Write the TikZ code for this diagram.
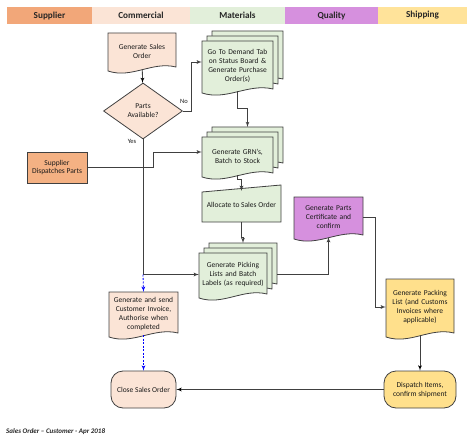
\documentclass[tikz,border=0pt]{standalone}
\usepackage{fontspec}
\setmainfont{Carlito}
\usetikzlibrary{arrows,shapes.geometric}
\definecolor{supc}{HTML}{F2A779}
\definecolor{supnode}{HTML}{F4B183}
\definecolor{comc}{HTML}{FBE4D6}
\definecolor{matc}{HTML}{E2EFDA}
\definecolor{quac}{HTML}{D690DE}
\definecolor{shic}{HTML}{FFE39A}
\definecolor{shinode}{HTML}{FFE08C}
\definecolor{linec}{HTML}{404040}
\tikzset{
  txt/.style={align=center,font=\fontsize{7.5}{9}\selectfont,text=black!90,inner sep=0pt},
  hdr/.style={shape=rectangle,minimum height=17pt,inner sep=0pt,font=\fontsize{9.2}{10}\selectfont\bfseries,text=black!85},
  outline/.style={draw=linec,line width=0.8pt},
  conn/.style={draw=linec,line width=0.8pt},
  invconn/.style={draw=blue,line width=0.8pt,dash pattern=on 2pt off 1.5pt},
  lbl/.style={font=\fontsize{6.5}{7}\selectfont,text=black!90,inner sep=0pt}
}
% document outline: x0, y0, x1, y1 (left bottom corner), fill
\newcommand*\docpath[5]{%
  \filldraw[outline,fill=#5] ({#1},{#2}) -- ({#3},{#2}) -- ({#3},{#4-4})
    .. controls ({#1+0.65*(#3-#1)},{#4-10}) and ({#1+0.35*(#3-#1)},{#4+8}) .. ({#1},{#4}) -- cycle;}
% document with its text node: name, x0, y0, x1, y1, fill, text
\newcommand*\docnode[7]{%
  \docpath{#2}{#3}{#4}{#5}{#6}
  \node[txt,minimum width={#4-#2},minimum height={#5-#3-2},text width={#4-#2-6}] (#1) at ({(#2+#4)/2},{(#3+#5-2)/2}) {#7};}
% stack of three documents
\newcommand*\multidocnode[7]{%
  \docpath{(#2+10)}{(#3-10)}{(#4+10)}{(#5-10)}{#6}
  \docpath{(#2+5)}{(#3-5)}{(#4+5)}{(#5-5)}{#6}
  \docnode{#1}{#2}{#3}{#4}{#5}{#6}{#7}
  \coordinate (#1-back) at ({(#2+#4)/2+10},{#3-10});}

\begin{document}
\begin{tikzpicture}[x=1pt,y=-1pt,>=latex']
	\useasboundingbox (0,0) rectangle (474,441);
	% swimlane headers
	\node (hsupplier) [hdr,fill=supc,minimum width=85pt] at (49.5,15.5) {Supplier};
	\node (hcommercial) [hdr,fill=comc,minimum width=98pt] at (141,15.5) {Commercial};
	\node (hmaterials) [hdr,fill=matc,minimum width=95pt] at (237.5,15.5) {Materials};
	\node (hquality) [hdr,fill=quac,minimum width=93pt] at (331.5,15.5) {Quality};
	\node (hshipping) [hdr,fill=shic,minimum width=89pt] at (422.5,15.5) {Shipping};

	% commercial
	\docnode{order}{108}{33}{176}{71}{comc}{Generate Sales\\Order}
	\node (avail) [shape=diamond,aspect=1.41,minimum width=79pt,minimum height=56pt,outline,fill=comc,txt] at (143,111) {Parts\\Available?};
	\docnode{invoice}{109}{292}{178}{337}{comc}{Generate and send\\Customer Invoice,\\Authorise when\\completed}
	\node (close) [outline,fill=comc,txt,rounded corners=12pt,minimum width=65pt,minimum height=37pt] at (143.5,389.5) {Close Sales Order};

	% supplier
	\node (supplier) [outline,fill=supnode,txt,minimum width=60pt,minimum height=31pt] at (57,167.5) {Supplier\\Dispatches Parts};

	% materials
	\multidocnode{demand}{202}{41}{273}{93}{matc}{Go To Demand Tab\\on Status Board \&\\Generate Purchase\\Order(s)}
	\multidocnode{grn}{202}{137}{273}{177}{matc}{Generate GRN's,\\Batch to Stock}
	\filldraw[outline,fill=matc] (202,192) -- (281,185) -- (281,222) -- (202,222) -- cycle;
	\node (alloc) [txt,minimum width=79pt,minimum height=34pt] at (241.5,205) {Allocate to Sales Order};
	\multidocnode{picking}{199}{253}{267}{298}{matc}{Generate Picking\\Lists and Batch\\Labels (as required)}

	% quality and shipping
	\docnode{cert}{294}{197}{363}{239}{quac}{Generate Parts\\Certificate and\\confirm}
	\docnode{packing}{386}{279}{454}{337}{shinode}{Generate Packing\\List (and Customs\\Invoices where\\applicable)}
	\node (dispatch) [outline,fill=shinode,txt,rounded corners=12pt,minimum width=72pt,minimum height=37pt] at (420,389.5) {Dispatch Items,\\confirm shipment};

	% connectors
	\path[conn,->] (order) edge (avail);
	\draw[conn,->] (avail.east) -- ++(8,0) |- ([yshift=4pt]demand.west);
	\node (no) [lbl] at ([xshift=1pt,yshift=10pt]avail.east) {No};
	\node (yes) [lbl] at ([xshift=-11pt,yshift=-2pt]avail.south) {Yes};
	\draw[conn,->] (demand.south) -- ++(0,17) -| (grn-back);
	\draw[conn,->] (supplier.east) -- ++(66,0) |- ([yshift=4pt]grn.west);
	\draw[conn,->] (grn.south) -- ++(0,4) -| ([yshift=-3pt]alloc.north);
	\draw[conn,->] (alloc.south) -- ++(0,15) -| (picking-back);
	\coordinate (split) at (avail.south |- picking.west);
	\draw[conn,->] (avail.south) -- (split) -- (picking.west);
	\draw[invconn,->] (split) -- (invoice.north);
	\draw[invconn,->] (invoice.south) -- (close.north);
	\draw[conn,->] ([xshift=10pt]picking.east) -| (cert.south);
	\draw[conn,->] (cert.east) -- ++(12,0) |- (packing.west);
	\path[conn,->] (packing) edge (dispatch);
	\path[conn,->] (dispatch) edge (close);

	% caption
	\node (caption) [anchor=west,inner sep=0pt,font=\fontsize{7}{8}\selectfont\bfseries\itshape,text=black!85] at (6,432) {Sales Order -- Customer - Apr 2018};
\end{tikzpicture}
\end{document}
